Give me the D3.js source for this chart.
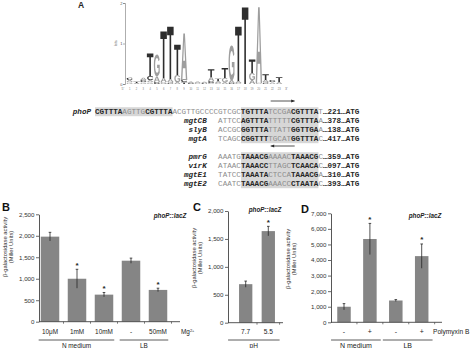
<!DOCTYPE html>
<html><head><meta charset="utf-8">
<script src="https://cdn.jsdelivr.net/npm/d3@7"></script>
<style>
body{margin:0;background:#fff;}
svg{display:block;font-family:"Liberation Sans",Arial,sans-serif;}
.logo text{text-rendering:geometricPrecision;}
</style></head><body>
<svg id="c" width="474" height="348">
  <defs>
    <filter id="gray" x="0" y="0" width="1" height="1" filterUnits="objectBoundingBox">
      <feColorMatrix type="saturate" values="0"/>
    </filter>
  </defs>
</svg>
<script>
// ================= DATA =================
// Panel A: sequence logo (bits per letter, bottom to top)
const logoPositions = d3.range(1, 24);
const logoStacks = [
  [["G",0.04],["A",0.05],["C",0.06]],
  [["A",0.03],["T",0.03]],
  [["G",0.04],["C",0.05],["A",0.06]],
  [["G",0.04],["A",0.05],["C",0.1],["T",0.58]],
  [["C",0.05],["A",0.14],["G",0.55]],
  [["G",0.05],["A",0.1],["T",1.2]],
  [["C",0.04],["A",0.08],["T",1.35]],
  [["A",0.05],["G",0.18],["T",0.78]],
  [["T",0.04],["C",0.07],["A",1.2]],
  [["C",0.03],["A",0.04]],
  [["G",0.03],["A",0.04]],
  [["C",0.02],["A",0.03]],
  [["G",0.03],["C",0.05],["A",0.1],["T",0.2]],
  [["G",0.03],["A",0.05],["T",0.06]],
  [["A",0.05],["G",0.1],["T",0.26]],
  [["C",0.03],["A",0.08],["G",0.88]],
  [["G",0.03],["A",0.05],["T",1.4]],
  [["T",1.98]],
  [["A",0.1],["G",0.18],["T",0.35]],
  [["G",0.03],["A",1.96]],
  [["C",0.04],["A",0.06],["T",0.15]],
  [["A",0.04],["C",0.05]],
  [["A",0.05],["T",0.12]]
];
const logoTicks = [0, 1, 2];

// Panel A: promoter alignment. roles: f = flank, h = half-site, s = spacer, e = distance/ATG
const seqGenes = ["phoP","mgtCB","slyB","mgtA","pmrG","virK","mgtE1","mgtE2"];
const seqRows = [
  [["CGTTTA","h"],["AGTTG","s"],["CGTTTA","h"],["ACGTTGCCCCGTCGC","f"],["TGTTTA","h"],["TCCGA","s"],["CGTTTA","h"],["T","f"],["…221…ATG","e"]],
  [["ATTCC","f"],["AGTTTA","h"],["TTTTT","s"],["CGTTTA","h"],["A","f"],["…378…ATG","e"]],
  [["ACCGC","f"],["GGTTTA","h"],["TTATT","s"],["GGTTGA","h"],["A","f"],["…138…ATG","e"]],
  [["TCAGC","f"],["CGGTTT","h"],["TGCAT","s"],["GGTTTA","h"],["C","f"],["…417…ATG","e"]],
  [["AAATG","f"],["TAAACG","h"],["AAAAC","s"],["TAAACG","h"],["C","f"],["…359…ATG","e"]],
  [["ATAAC","f"],["TAAACC","h"],["TTAGC","s"],["TCAACA","h"],["C","f"],["…097…ATG","e"]],
  [["TATCC","f"],["TAAATA","h"],["CTCCA","s"],["TAAACG","h"],["A","f"],["…310…ATG","e"]],
  [["CAATC","f"],["TAAACG","h"],["AAACC","s"],["CTAATA","h"],["C","f"],["…393…ATG","e"]]
];
const seqGroups = [[0,3],[4,7]];        // rows sharing one shaded box
const seqArrowDir = ["right","left"];   // orientation arrow per group

// Panel B
const bCategories = ["10μM","1mM","10mM","-","50mM"];
const bValues = [1980, 1000, 630, 1420, 740];
const bErrors = [100, 220, 50, 60, 40];
const bSignif = [false, true, true, false, true];
const bTicks = [0, 500, 1000, 1500, 2000, 2500];
const bGroups = [["N medium",0,2],["LB",3,4]];

// Panel C
const cCategories = ["7.7","5.5"];
const cValues = [690, 1640];
const cErrors = [55, 85];
const cSignif = [false, true];
const cTicks = [0, 500, 1000, 1500, 2000];
const cGroups = [["pH",0,1]];

// Panel D
const dCategories = ["-","+","-","+"];
const dValues = [1000, 5350, 1400, 4250];
const dErrors = [200, 1000, 60, 780];
const dSignif = [false, true, false, true];
const dTicks = [0, 1000, 2000, 3000, 4000, 5000, 6000, 7000];
const dGroups = [["N medium",0,1],["LB",2,3]];

// ================= DRAW =================
const svg = d3.select("#c");
const INK = "#262626";

// ---------- Panel A: logo ----------
svg.append("text").attr("x",78).attr("y",8).attr("font-size",8.5).attr("font-weight","bold").attr("fill",INK).text("A");

const lx = d3.scaleBand().domain(logoPositions).range([126.6, 282.3]).paddingInner(0.08);
const ly = d3.scaleLinear().domain([0, 2]).range([84, 3]);
const letterColor = {T:"#2e2e2e", C:"#2e2e2e", A:"#9e9e9e", G:"#9e9e9e"};
const logoG = svg.append("g").attr("class","logo").attr("filter","url(#gray)");
logoStacks.forEach((stack, i) => {
  const pos = logoPositions[i];
  const cx = lx(pos) + lx.bandwidth()/2;
  let acc = 0;
  stack.forEach(([L, b]) => {
    const y0 = ly(acc), y1 = ly(acc + b);
    acc += b;
    const h = y0 - y1;
    const t = logoG.append("text").text(L)
      .attr("font-size", 100).attr("font-weight", "bold")
      .attr("text-anchor", "middle").attr("fill", letterColor[L]);
    const adv = t.node().getComputedTextLength();
    t.attr("transform", `translate(${cx},${y0}) scale(${lx.bandwidth()*1.08/adv},${h/72})`);
  });
});
const lAxis = svg.append("g").attr("transform","translate(125,0)")
  .call(d3.axisLeft(ly).tickValues(logoTicks).tickSize(2).tickFormat(d3.format("d")));
lAxis.select(".domain").attr("stroke","#777").attr("stroke-width",0.6);
lAxis.selectAll(".tick line").attr("stroke","#777").attr("stroke-width",0.6);
lAxis.selectAll("text").attr("font-size",4).attr("fill","#555").attr("x",-2.5);
svg.append("text").attr("transform","translate(117,43) rotate(-90)").attr("text-anchor","middle")
  .attr("font-size",3.5).attr("fill","#555").text("bits");
const lxAxis = svg.append("g");
lxAxis.selectAll("text").data(logoPositions).join("text")
  .attr("x", d => lx(d) + lx.bandwidth()/2).attr("y", 89.5)
  .attr("text-anchor","middle").attr("font-size",2.6).attr("fill","#777").text(d => d);
svg.append("text").attr("x",121.5).attr("y",90).attr("font-size",3.5).attr("fill","#777").text("5′");
svg.append("text").attr("x",285).attr("y",90).attr("font-size",3.5).attr("fill","#777").text("3′");

// ---------- Panel A: alignment ----------
const FS = 7.6, CW = FS * 0.6;
const seqX0 = 95;
const rowStep = 9;
const rowBase = i => 114 + rowStep * (i < 4 ? i : i + 1);
function boxStartIndex(row) {
  let hIdx = [];
  row.forEach((s, k) => { if (s[1] === "h") hIdx.push(k); });
  const startSeg = hIdx[hIdx.length - 2];
  return d3.sum(row.slice(0, startSeg), s => s[0].length);
}
const anchor = d3.max(seqRows, boxStartIndex);
const boxLen = d3.sum(seqRows[1].slice(1, 4), s => s[0].length);
const shade = "#d7d7d7";
svg.append("rect").attr("x", seqX0).attr("y", rowBase(0) - 6.8)
  .attr("width", 17 * CW).attr("height", rowStep).attr("fill", shade);
seqGroups.forEach(([a, b], gi) => {
  const x0 = seqX0 + anchor * CW, x1 = x0 + boxLen * CW;
  svg.append("rect").attr("x", x0).attr("y", rowBase(a) - 6.8)
    .attr("width", x1 - x0).attr("height", rowBase(b) - rowBase(a) + rowStep).attr("fill", shade);
  const ay = rowBase(a) - 13;
  const mx = (x0 + x1) / 2 + 3;
  const ax0 = mx - 12, ax1 = mx + 12;
  svg.append("line").attr("x1", ax0).attr("x2", ax1).attr("y1", ay).attr("y2", ay)
    .attr("stroke", INK).attr("stroke-width", 0.8);
  const tip = seqArrowDir[gi] === "right" ? ax1 : ax0;
  const dir = seqArrowDir[gi] === "right" ? -1 : 1;
  svg.append("path").attr("d", `M${tip},${ay} L${tip + dir*3.5},${ay - 1.6} L${tip + dir*3.5},${ay + 1.6} Z`).attr("fill", INK);
});
seqRows.forEach((row, i) => {
  const off = anchor - boxStartIndex(row);
  const y = rowBase(i);
  const t = svg.append("text").attr("x", seqX0 + off * CW).attr("y", y)
    .attr("font-family", "'Liberation Mono','Courier New',monospace").attr("font-size", FS)
    .attr("xml:space", "preserve");
  row.forEach(([s, r]) => {
    t.append("tspan").text(s)
      .attr("font-weight", (r === "h" || r === "e") ? "bold" : "normal")
      .attr("fill", (r === "h" || r === "e") ? INK : "#8c8c8c");
  });
  const lblX = i === 0 ? seqX0 - 4 : seqX0 + (off - 2.5) * CW;
  svg.append("text").attr("x", lblX).attr("y", y).attr("text-anchor", "end")
    .attr("font-family", "'Liberation Mono','Courier New',monospace").attr("font-size", FS)
    .attr("font-style", "italic").attr("font-weight", "bold").attr("fill", INK).text(seqGenes[i]);
});

// ---------- Bar panels ----------
function barPanel(o) {
  const g = svg.append("g");
  const y = d3.scaleLinear().domain([0, d3.max(o.ticks)]).range([o.y0, o.y1]);
  const x = d3.scalePoint().domain(d3.range(o.values.length)).range(o.centers);
  const step = x.step();
  g.selectAll("rect.bar").data(o.values).join("rect").attr("class","bar")
    .attr("x", (d, i) => x(i) - o.bw/2).attr("width", o.bw)
    .attr("y", d => y(d)).attr("height", d => y(0) - y(d))
    .attr("fill", "#858585");
  o.values.forEach((v, i) => {
    const cx = x(i), e = o.errors[i];
    g.append("line").attr("x1", cx).attr("x2", cx).attr("y1", y(v - e)).attr("y2", y(v + e))
      .attr("stroke", INK).attr("stroke-width", 0.8);
    g.append("line").attr("x1", cx - 1.3).attr("x2", cx + 1.3).attr("y1", y(v + e)).attr("y2", y(v + e))
      .attr("stroke", INK).attr("stroke-width", 0.8);
    if (o.signif[i]) {
      g.append("text").attr("x", cx).attr("y", y(v + e) - 1.5).attr("text-anchor", "middle")
        .attr("font-size", 8).attr("font-weight", "bold").attr("fill", INK).text("*");
    }
  });
  const ya = g.append("g").attr("transform", `translate(${o.ax},0)`)
    .call(d3.axisLeft(y).tickValues(o.ticks).tickSize(3).tickSizeOuter(0).tickPadding(1.5));
  ya.select(".domain").attr("stroke", "#444").attr("stroke-width", 0.9);
  ya.selectAll(".tick line").attr("stroke", "#444").attr("stroke-width", 0.8);
  ya.selectAll("text").attr("font-size", o.tfs).attr("fill", "#333").attr("font-family", "'Liberation Sans',Arial,sans-serif");
  g.append("line").attr("x1", o.ax).attr("x2", o.xEnd).attr("y1", y(0)).attr("y2", y(0))
    .attr("stroke", "#444").attr("stroke-width", 0.9);
  d3.range(o.values.length).forEach(i => {
    const tx = x(i) + step/2;
    if (tx < o.xEnd) g.append("line").attr("x1", tx).attr("x2", tx).attr("y1", y(0)).attr("y2", y(0) + 2)
      .attr("stroke", "#444").attr("stroke-width", 0.7);
  });
  g.selectAll("text.cat").data(o.categories).join("text").attr("class","cat")
    .attr("x", (d, i) => x(i)).attr("y", 334).attr("text-anchor", "middle")
    .attr("font-size", o.cfs).attr("fill", "#222").text(d => d);
  o.groups.forEach(([lab, a, b]) => {
    const gx0 = x(a) - step * o.gl, gx1 = x(b) + step * o.gr;
    g.append("line").attr("x1", gx0).attr("x2", gx1).attr("y1", 340).attr("y2", 340)
      .attr("stroke", "#333").attr("stroke-width", 0.8);
    g.append("text").attr("x", (gx0 + gx1)/2).attr("y", 347.6).attr("text-anchor", "middle")
      .attr("font-size", o.cfs).attr("fill", "#222").text(lab);
  });
  g.append("text").attr("x", o.lx).attr("y", o.ly).attr("font-size", 11).attr("font-weight", "bold").attr("fill", "#111").text(o.label);
  g.append("text").attr("x", o.px).attr("y", o.py).attr("text-anchor", "middle")
    .attr("font-size", 6.3).attr("font-weight", "bold").attr("font-style", "italic").attr("fill", "#222").text("phoP::lacZ");
  const tt = g.append("text").attr("transform", `translate(${o.tx},${o.ty}) rotate(-90)`)
    .attr("text-anchor", "middle").attr("font-size", 5.8).attr("fill", "#333");
  tt.append("tspan").attr("x", 0).attr("dy", 0).text("β-galactosidase activity");
  tt.append("tspan").attr("x", 0).attr("dy", 6.3).text("(Miller Units)");
  return {g, x, y};
}

const B = barPanel({values:bValues, errors:bErrors, signif:bSignif, ticks:bTicks, categories:bCategories, groups:bGroups,
  y0:321.7, y1:214.3, centers:[50,158], bw:18.5, ax:39, xEnd:180, tfs:6.2, cfs:6.4, gl:0.42, gr:0.38,
  label:"B", lx:2, ly:211, px:170, py:218, tx:6.5, ty:247});
B.g.append("text").attr("x", 181).attr("y", 334).attr("font-size", 6.4).attr("fill", "#222")
  .text("Mg").append("tspan").attr("dy", -2.5).attr("font-size", 4).text("2+");

barPanel({values:cValues, errors:cErrors, signif:cSignif, ticks:cTicks, categories:cCategories, groups:cGroups,
  y0:322.7, y1:211, centers:[245.7,268.3], bw:13.3, ax:228, xEnd:283, tfs:6.2, cfs:6.6, gl:0.78, gr:0.5,
  label:"C", lx:193, ly:211, px:265, py:212, tx:195.5, ty:258});

const D = barPanel({values:dValues, errors:dErrors, signif:dSignif, ticks:dTicks, categories:dCategories, groups:dGroups,
  y0:322.3, y1:213.3, centers:[344,421.7], bw:13.5, ax:331, xEnd:442, tfs:6.2, cfs:7, gl:0.5, gr:0.42,
  label:"D", lx:301, ly:213, px:425, py:218, tx:290, ty:259});
D.g.append("text").attr("x", 433).attr("y", 334).attr("font-size", 6.6).attr("fill", "#222").text("Polymyxin B");
</script>
</body></html>
